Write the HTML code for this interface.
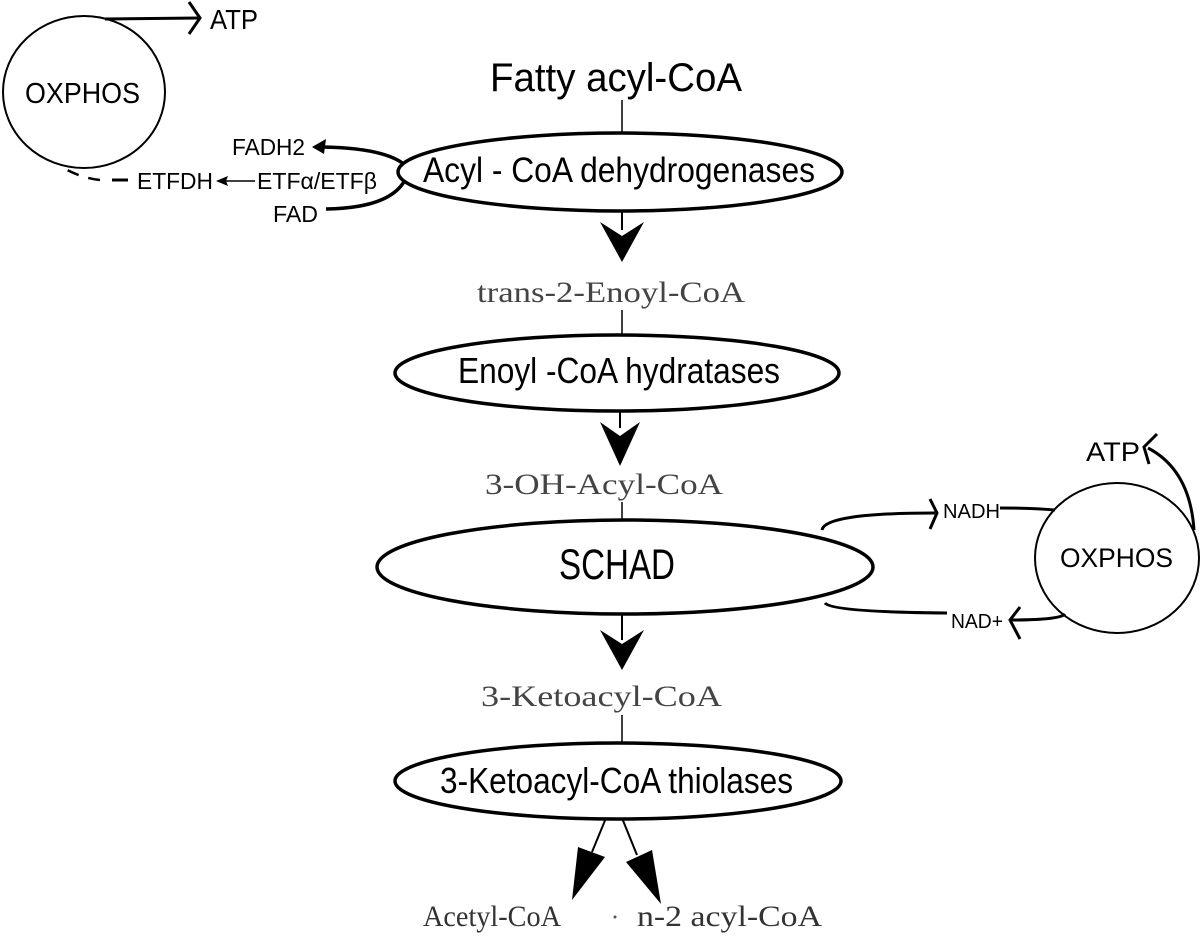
<!DOCTYPE html>
<html><head><meta charset="utf-8"><style>html,body{margin:0;padding:0;background:#fff}svg{display:block}</style></head><body>
<svg width="1200" height="938" viewBox="0 0 1200 938" xmlns="http://www.w3.org/2000/svg" font-family="Liberation Sans, sans-serif">
<!-- left OXPHOS -->
<ellipse cx="84" cy="92" rx="81" ry="76" fill="none" stroke="#000" stroke-width="2"/>
<text x="25" y="103" font-size="29" textLength="115" lengthAdjust="spacingAndGlyphs">OXPHOS</text>
<line x1="105" y1="19" x2="200" y2="18" stroke="#000" stroke-width="3"/>
<polyline points="189,2 200,18 189,34" fill="none" stroke="#000" stroke-width="3"/>
<text x="210" y="29" font-size="28" textLength="48" lengthAdjust="spacingAndGlyphs">ATP</text>

<text x="490" y="91" font-size="40" textLength="252" lengthAdjust="spacingAndGlyphs">Fatty acyl-CoA</text>
<line x1="622" y1="100" x2="622" y2="133" stroke="#000" stroke-width="1.5"/>

<!-- FAD cycle -->
<path d="M405,165 Q385,148 322,147" fill="none" stroke="#000" stroke-width="3.5"/>
<polygon points="312,147 326,139 324,154" fill="#000"/>
<text x="232" y="155" font-size="23" textLength="73" lengthAdjust="spacingAndGlyphs">FADH2</text>
<path d="M405,180 Q390,208 326,209" fill="none" stroke="#000" stroke-width="3.5"/>
<text x="273" y="222" font-size="23" textLength="45" lengthAdjust="spacingAndGlyphs">FAD</text>
<text x="257" y="189" font-size="23" textLength="120" lengthAdjust="spacingAndGlyphs">ETFα/ETFβ</text>
<line x1="255" y1="181" x2="222" y2="181" stroke="#000" stroke-width="1.5"/>
<polygon points="216,181 228,176 226,181 228,186" fill="#000"/>
<text x="137" y="189" font-size="23" textLength="76" lengthAdjust="spacingAndGlyphs">ETFDH</text>
<line x1="112" y1="180" x2="128" y2="180" stroke="#000" stroke-width="3"/>
<path d="M100,180 Q80,178 60,166" fill="none" stroke="#000" stroke-width="2.5" stroke-dasharray="12,10"/>

<ellipse cx="620" cy="172" rx="222" ry="39" fill="#fff" stroke="#000" stroke-width="3.5"/>
<text x="423" y="182" font-size="35" textLength="392" lengthAdjust="spacingAndGlyphs">Acyl - CoA dehydrogenases</text>

<!-- arrow 1 -->
<line x1="622" y1="211" x2="622" y2="230" stroke="#000" stroke-width="2"/>
<polygon points="622,262 600,222 622,236 644,222" fill="#000"/>
<text x="477" y="302" font-size="30" textLength="268" lengthAdjust="spacingAndGlyphs" font-family="Liberation Serif, serif" fill="#444">trans-2-Enoyl-CoA</text>
<line x1="622" y1="310" x2="622" y2="336" stroke="#000" stroke-width="1.5"/>
<ellipse cx="617" cy="373" rx="222" ry="38" fill="#fff" stroke="#000" stroke-width="3.5"/>
<text x="458" y="383" font-size="36" textLength="322" lengthAdjust="spacingAndGlyphs">Enoyl -CoA hydratases</text>

<line x1="620" y1="411" x2="620" y2="428" stroke="#000" stroke-width="2"/>
<polygon points="620,466 600,422 620,436 640,422" fill="#000"/>
<text x="485" y="494" font-size="30" textLength="238" lengthAdjust="spacingAndGlyphs" font-family="Liberation Serif, serif" fill="#444">3-OH-Acyl-CoA</text>
<line x1="622" y1="502" x2="622" y2="521" stroke="#000" stroke-width="1.5"/>
<ellipse cx="625" cy="567" rx="248" ry="47" fill="#fff" stroke="#000" stroke-width="3.5"/>
<text x="559" y="579" font-size="43" textLength="116" lengthAdjust="spacingAndGlyphs">SCHAD</text>

<!-- right side -->
<path d="M822,530 Q825,513 935,513" fill="none" stroke="#000" stroke-width="3"/>
<polyline points="930,499 937,513 930,529" fill="none" stroke="#000" stroke-width="3"/>
<text x="943" y="518" font-size="20" textLength="57" lengthAdjust="spacingAndGlyphs">NADH</text>
<path d="M1000,508 Q1030,508 1055,510" fill="none" stroke="#000" stroke-width="3"/>
<path d="M825,603 Q832,612 947,613" fill="none" stroke="#000" stroke-width="3"/>
<text x="951" y="628" font-size="20" textLength="52" lengthAdjust="spacingAndGlyphs">NAD+</text>
<polyline points="1020,607 1010,620 1020,639" fill="none" stroke="#000" stroke-width="3"/>
<path d="M1010,620 Q1060,620 1065,614" fill="none" stroke="#000" stroke-width="3"/>
<ellipse cx="1117" cy="558" rx="82" ry="75" fill="none" stroke="#000" stroke-width="2"/>
<text x="1060" y="567" font-size="27" textLength="113" lengthAdjust="spacingAndGlyphs">OXPHOS</text>
<path d="M1194,530 Q1190,470 1148,448" fill="none" stroke="#000" stroke-width="3"/>
<polyline points="1157,434 1144,447 1149,464" fill="none" stroke="#000" stroke-width="3"/>
<text x="1086" y="461" font-size="27" textLength="54" lengthAdjust="spacingAndGlyphs">ATP</text>

<line x1="622" y1="614" x2="622" y2="640" stroke="#000" stroke-width="2"/>
<polygon points="622,670 600,630 622,644 644,630" fill="#000"/>
<text x="481" y="706" font-size="30" textLength="241" lengthAdjust="spacingAndGlyphs" font-family="Liberation Serif, serif" fill="#444">3-Ketoacyl-CoA</text>
<line x1="622" y1="715" x2="622" y2="744" stroke="#000" stroke-width="1.5"/>
<ellipse cx="618" cy="781" rx="223" ry="38" fill="#fff" stroke="#000" stroke-width="3.5"/>
<text x="440" y="793" font-size="36" textLength="353" lengthAdjust="spacingAndGlyphs">3-Ketoacyl-CoA thiolases</text>

<line x1="606" y1="818" x2="592" y2="852" stroke="#000" stroke-width="2"/>
<polygon points="578,847 605,857 572,900" fill="#000"/>
<line x1="622" y1="818" x2="637" y2="855" stroke="#000" stroke-width="2"/>
<polygon points="626,862 652,850 661,904" fill="#000"/>
<text x="423" y="926" font-size="30" textLength="138" lengthAdjust="spacingAndGlyphs" font-family="Liberation Serif, serif" fill="#333">Acetyl-CoA</text>
<circle cx="615" cy="917" r="1.5" fill="#555"/>
<text x="637" y="926" font-size="30" textLength="185" lengthAdjust="spacingAndGlyphs" font-family="Liberation Serif, serif" fill="#333">n-2 acyl-CoA</text>
</svg>
</body></html>
